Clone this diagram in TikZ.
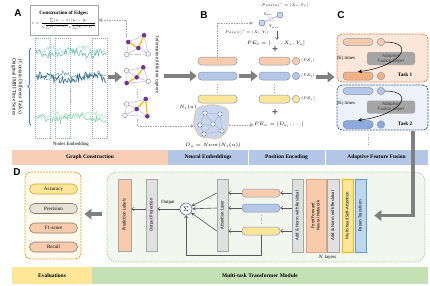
\RequirePackage{fix-cm}
\documentclass[tikz,border=0pt]{standalone}
\usepackage{fontspec}
\usepackage{amsmath}
\usepackage{graphicx}
\setmainfont{Liberation Serif}
\newfontfamily\labfont{Liberation Sans}
\newfontfamily\boxfont{Carlito}
\usetikzlibrary{arrows.meta,decorations.pathreplacing}

\definecolor{gcpeach}{HTML}{F8CFB6}
\definecolor{neblue}{HTML}{B4C7E7}
\definecolor{evyellow}{HTML}{FFE699}
\definecolor{mtgreen}{HTML}{C5E0B4}
\definecolor{peach}{HTML}{F8CBAD}
\definecolor{peachdark}{HTML}{F4B183}
\definecolor{pillblue}{HTML}{B4C7E7}
\definecolor{pillbluedark}{HTML}{8EA9DB}
\definecolor{pillyellow}{HTML}{FFE699}
\definecolor{pillline}{HTML}{8497B0}
\definecolor{gpurple}{HTML}{7030A0}
\definecolor{gyellow}{HTML}{FFC000}
\definecolor{glav}{HTML}{B4A7D6}
\definecolor{boxgray}{HTML}{A6A6A6}
\definecolor{vgray}{HTML}{E0E0E0}
\definecolor{evalgold}{HTML}{D4A22A}
\definecolor{evalfill}{HTML}{FFFAEB}
\definecolor{panelgreen}{HTML}{A9D18E}
\definecolor{panelfill}{HTML}{F1F7EE}
\definecolor{tonefill}{HTML}{FCE7DA}
\definecolor{toneline}{HTML}{ED7D31}
\definecolor{ttwofill}{HTML}{EDF2FA}
\definecolor{ttwoline}{HTML}{2F5597}
\definecolor{fusegray}{HTML}{A5A5A5}
\definecolor{biggray}{HTML}{808080}
\definecolor{arrgray}{HTML}{595959}
\definecolor{tsteal}{HTML}{5DB8A4}
\definecolor{tstealL}{HTML}{A8DDD0}
\definecolor{tsdark}{HTML}{20607E}
\definecolor{tsdarkL}{HTML}{5C95B0}
\definecolor{tsgreen}{HTML}{6FCF97}
\definecolor{tsgreenL}{HTML}{B5E8C8}
\definecolor{colblue}{HTML}{8FAADC}
\definecolor{braceblue}{HTML}{4472C4}
\definecolor{patchblue}{HTML}{C9D6EC}
\definecolor{patchline}{HTML}{F4B183}
\definecolor{metricline}{HTML}{8C7B6B}
\definecolor{precfill}{HTML}{E4E1D6}
\definecolor{ffnline}{HTML}{E6A57E}
\definecolor{mhsaline}{HTML}{E6B800}
\definecolor{ptfill}{HTML}{BDD7EE}
\definecolor{ptline}{HTML}{5B9BD5}

\newcommand{\vtext}[1]{\rotatebox{90}{\begin{tabular}{@{}c@{}}#1\end{tabular}}}
\newcommand{\dtext}[1]{\rotatebox{-90}{\begin{tabular}{@{}c@{}}#1\end{tabular}}}

\tikzset{every picture/.style={line width=0.5pt}}
\tikzset{
  banner/.style={inner sep=0pt, outer sep=0pt, font=\fontsize{5.5}{6}\selectfont\bfseries},
  panlab/.style={inner sep=0pt, font=\labfont\bfseries\fontsize{10}{10}\selectfont},
  small/.style={inner sep=0.5pt, font=\fontsize{4.8}{5.6}\selectfont},
  tiny/.style={inner sep=0.3pt, font=\fontsize{3.6}{4.2}\selectfont},
  pill/.style={draw=pillline, rounded corners=3.5pt, minimum height=8, inner sep=0pt},
  dot/.style={circle, draw=pillline, minimum size=7.5, inner sep=0pt},
  pnode/.style={circle, fill=gpurple, minimum size=4.6, inner sep=0pt},
  hnode/.style={circle, draw=pillline, fill=white, minimum size=4.6, inner sep=0pt, line width=0.5},
  bnode/.style={circle, draw=braceblue, fill=white, minimum size=4.4, inner sep=0pt, line width=0.4},
  gedge/.style={draw=glav, line width=0.4},
  yedge/.style={draw=gyellow, line width=1.3},
  dashline/.style={draw=boxgray, dash pattern=on 1.5pt off 1pt, line width=0.5},
  dtip/.style={-{Triangle[length=3.2pt,width=3.4pt]}},
  bigarrow/.style={draw=biggray, line width=3.6, -{Triangle[length=7pt,width=10.5pt]}},
  darr/.style={draw=arrgray, line width=0.6, -{Straight Barb[length=2.2pt,width=3.2pt]}},
  sarr/.style={draw=arrgray, line width=0.6, -{Stealth[length=3.5pt,width=3.2pt]}},
  vbox/.style={draw=boxgray, minimum height=72, inner sep=0.5pt, line width=0.5, font=\boxfont\fontsize{4.6}{5.2}\selectfont},
  metric/.style={rounded corners=5pt, minimum width=48, minimum height=10, inner sep=0pt, line width=0.6, font=\fontsize{5}{5.5}\selectfont},
  fusebox/.style={fill=fusegray, rounded corners=2.5pt, minimum width=48, minimum height=13, inner sep=0pt, align=center, text=black!75, font=\labfont\fontsize{4.6}{5.2}\selectfont},
  plusnode/.style={inner sep=0pt, text=arrgray, font=\labfont\bfseries\fontsize{10}{10}\selectfont}
}

\begin{document}
\begin{tikzpicture}[x=1pt,y=1pt,yscale=-1,xscale=1]
\useasboundingbox (0,0) rectangle (430,285);

%Banners
\node (bgc) [banner, fill=gcpeach, minimum width=156, minimum height=15] at (90,157.5) {Graph Construction};
\node (bne) [banner, fill=neblue, minimum width=80, minimum height=15] at (208,157.5) {Neural Embeddings};
\node (bpe) [banner, fill=neblue, minimum width=77, minimum height=15] at (286.5,157.5) {Position Encoding};
\node (baf) [banner, fill=neblue, minimum width=103, minimum height=15] at (376.5,157.5) {Adaptive Feature Fusion};
\draw [white, line width=0.6] (248,150) -- (248,165) (325,150) -- (325,165);
\node (bev) [banner, fill=evyellow, minimum width=80, minimum height=17] at (52,275.5) {Evaluations};
\node (bmt) [banner, fill=mtgreen, minimum width=336, minimum height=17] at (260,275.5) {Multi-task Transformer Module};

% Panel letters
\node (labA) [panlab] at (18,13) {A};
\node (labB) [panlab] at (204,15) {B};
\node (labC) [panlab] at (341,15) {C};
\node (labD) [panlab] at (17,172) {D};

%Shape: Edge formula
\node (edgebox) [draw=boxgray, line width=0.8, minimum width=68, minimum height=30, inner sep=1pt, align=center, font=\fontsize{5}{6}\selectfont] at (64,20) {\textbf{Construction of Edges:}\\[1.5pt]{\fontsize{3.4}{4}\selectfont$\displaystyle r=\frac{\sum(x_i-\bar{x})(y_i-\bar{y})}{\sqrt{\sum(x_i-\bar{x})^2}\sqrt{\sum(y_i-\bar{y})^2}}$}};

%Shape: Time windows
\draw [colblue, dash pattern=on 1pt off 1pt] (35,38) rectangle (50,138);
\draw [colblue, dash pattern=on 1pt off 1pt] (55,38) rectangle (70,138);
\draw [boxgray, dash pattern=on 1pt off 1pt] (92,38) rectangle (107,138);

%Curves: Time series
\pgfmathsetseed{11}
\draw [tstealL, line width=0.4] plot [domain=36:106, samples=75] (\x,{50+2*sin(12*\x)+3*rand});
\draw [tsteal, line width=0.45] plot [domain=36:106, samples=75] (\x,{53+2*sin(9*\x)+3.5*rand});
\draw [tsdarkL, line width=0.4] plot [domain=36:106, samples=75] (\x,{76+2*sin(10*\x)+3*rand});
\draw [tsdark, line width=0.55] plot [domain=36:106, samples=75] (\x,{78+2.5*sin(7*\x)+4*rand});
\draw [tsgreenL, line width=0.4] plot [domain=36:106, samples=75] (\x,{115+2*sin(11*\x)+3*rand});
\draw [tsgreen, line width=0.45] plot [domain=36:106, samples=75] (\x,{118+2*sin(8*\x)+3.5*rand});
\draw [boxgray, dotted, line width=0.6] (70,91) -- (70,103);

%Brace
\draw [decorate, decoration={brace, amplitude=3pt}, braceblue, line width=0.8] (31,125) -- (31,48);

% Text Node
\node (tslab) [small, font=\fontsize{5.3}{6.4}\selectfont] at (17,87) {\dtext{(Contain Different Tasks)\\Original fMRI Time Series}};
% Text Node
\node (nemb) [small] at (71,144) {Nodes Embedding};

%Graphs
\node (g1a) [pnode] at (128.3,42) {};
\node (g1b) [pnode] at (144,35.3) {};
\node (g1c) [pnode] at (138.3,48) {};
\node (g1d) [hnode] at (126.7,54.7) {};
\node (g1e) [hnode] at (148.3,54) {};
\draw [gedge] (g1a) -- (g1b) (g1a) -- (g1d) (g1d) -- (g1c) (g1c) -- (g1e) (g1b) -- (g1e) (g1d) -- (g1e);
\draw [yedge] (g1a) -- (g1c) -- (g1b);

\node (g2a) [hnode] at (126.7,70.7) {};
\node (g2b) [pnode] at (143.3,67.3) {};
\node (g2c) [pnode] at (136.7,77.3) {};
\node (g2d) [pnode] at (126.7,83) {};
\node (g2e) [hnode] at (148.3,81.3) {};
\draw [gedge] (g2a) -- (g2b) (g2a) -- (g2c) (g2a) -- (g2d) (g2c) -- (g2e) (g2b) -- (g2e) (g2d) -- (g2e);
\draw [yedge] (g2d) -- (g2c) -- (g2b);

\node (g3a) [hnode] at (126.7,104) {};
\node (g3b) [pnode] at (145.7,99) {};
\node (g3c) [pnode] at (136.7,109) {};
\node (g3d) [hnode] at (125,115.3) {};
\node (g3e) [pnode] at (147.3,116.3) {};
\draw [gedge] (g3a) -- (g3b) (g3a) -- (g3c) (g3d) -- (g3c) (g3d) -- (g3e) (g3a) -- (g3d) (g3c) -- (g3e);
\draw [yedge] (g3c) -- (g3b) -- (g3e);
\draw [boxgray, dotted, line width=0.6] (137,89) -- (137,98);

% Text Node
\node (infolab) [small] at (157,65) {\dtext{Information diffusion capture}};

%Dashed links A
\coordinate (gtop) at (126,37);
\draw [dashline, dtip, boxgray] (gtop) |- (edgebox.east);
\coordinate (g3out) at (137,119);
\coordinate (patchW) at (194,126);
\draw [dashline, dtip] (g3out) |- (patchW);

%Big arrows
\coordinate (tsout) at (108,77);
\coordinate (grin) at (122,77);
\draw [bigarrow] (tsout) -- (grin);

%Pills B
\node (ne1) [pill, fill=peach, minimum width=39] at (217.5,61) {};
\node (ne2) [pill, fill=pillblue, minimum width=39] at (217.5,76) {};
\node (ne3) [pill, fill=pillyellow, minimum width=39] at (217.5,99) {};
\draw [boxgray, dotted, line width=0.6] (217.5,84) -- (217.5,93);
\node (pe1) [pill, fill=peach, minimum width=31] at (274.5,61) {};
\node (pe2) [pill, fill=pillblue, minimum width=31] at (274.5,76) {};
\node (pe3) [pill, fill=pillyellow, minimum width=31] at (274.5,99) {};
\draw [boxgray, dotted, line width=0.6] (274.5,84) -- (274.5,93);
\node (pc1) [dot, fill=peach] at (296,61) {};
\node (pc2) [dot, fill=pillblue] at (296,76) {};
\node (pc3) [dot, fill=pillyellow] at (296,99) {};
\node (pl1) [tiny, anchor=west] at (300.5,61) {$(PE_1)$};
\node (pl2) [tiny, anchor=west] at (300.5,76) {$(PE_2)$};
\node (pl3) [tiny, anchor=west] at (300.5,99) {$(PE_n)$};
\node (plus1) [plusnode] at (275,50) {+};
\node (plus2) [plusnode] at (275,113) {+};

\coordinate (grout) at (164,76);
\draw [bigarrow, shorten >=1] (grout) -- (ne2.west);
\draw [bigarrow, shorten <=2, shorten >=1] (ne2.east) -- (pe2.west);

%Position top
\coordinate (posin) at (253,23);
\draw [dashline, dtip] (ne1.north) |- (posin);
\node (mg1) [bnode, fill=patchblue, minimum size=6] at (262,23) {};
\node (mg2) [bnode, fill=patchblue, minimum size=6] at (280,15) {};
\draw [gedge, line width=0.5] (mg1) -- (mg2);
\draw [gedge, line width=0.5] (mg1.north east) -- (275,21) (mg2.south west) -- (267,17);
\node (ypos) [tiny] at (268,14.5) {$Y_{pos}$};
\node (ymax) [tiny] at (274,27) {$Y_{max}$};
\node (poseu) [tiny] at (285,5) {$Pose(u)^{+}=(X_u,Y_u)$};
\node (posei) [tiny] at (247,32) {$Pose(i)^{+}=(X_i,Y_i)$};
\node (pe0) [small] at (276,43) {$PE_0=[\ldots,X_u,Y_u]$};
\coordinate (mgdown) at (277,31);
\draw [darr, line width=0.4] (mgdown) -- (pe0.north -| mgdown);

%Shape: neighbourhood patch
\draw [patchline, fill=patchblue, rounded corners=4] (196,108) -- (213,104) -- (229,109) -- (228,130) -- (219,139) -- (199,137) -- (193,124) -- cycle;
\node (bn1) [bnode] at (205,113) {};
\node (bn2) [bnode] at (220,114) {};
\node (bn3) [bnode] at (213,124) {};
\node (bn4) [bnode] at (200,125) {};
\node (bn5) [bnode] at (204,134) {};
\node (bn6) [bnode] at (222,131) {};
\draw [gedge] (bn1) -- (bn2) (bn1) -- (bn3) (bn2) -- (bn3) (bn1) -- (bn4) (bn4) -- (bn3) (bn4) -- (bn5) (bn3) -- (bn6) (bn2) -- (bn6) (bn5) -- (bn6) (bn3) -- (bn5);
\node (nlab) [small] at (188,107) {$N_1(u)$};
\node (dlab) [small] at (213,145) {$D_u=Num\big(N_1(u)\big)$};
\coordinate (patchE) at (229,125);
\node (pew) [small] at (279,125) {$PE_{w}=[D_{u_1},\ldots]$};
\draw [dashline, dtip] (patchE) -- (pew.west);

%Task boxes
\node (task1) [draw=toneline, fill=tonefill, dash pattern=on 2pt off 1pt, line width=0.8, rounded corners=5, minimum width=91, minimum height=48] at (382.5,58) {};
\node (task2) [draw=ttwoline, fill=ttwofill, dash pattern=on 2pt off 1pt, line width=0.8, rounded corners=5, minimum width=91, minimum height=45] at (382.5,107.5) {};

\node (t1p1) [pill, fill=peach, minimum width=30, minimum height=7] at (358,42) {};
\node (t1c1) [dot, fill=peach] at (381,42) {};
\node (t1fuse) [fusebox] at (391,58.5) {Adaptive\\Fusion Layer};
\node (t1k) [small] at (346,58) {(K) times};
\node (t1p2) [pill, fill=peachdark, minimum width=30] at (358,76) {};
\node (t1c2) [dot, fill=peachdark] at (381,76) {};
\node (t1lab) [small, font=\fontsize{5.2}{6}\selectfont\bfseries] at (405,75) {Task 1};
\draw [-{Stealth[length=4pt,width=3.5pt]}, line width=0.5] (t1c1.east) .. controls (416,42) and (402,66) .. (t1p2.north);

\node (t2p1) [pill, fill=pillblue, minimum width=30, minimum height=7] at (358,91) {};
\node (t2c1) [dot, fill=pillblue] at (381,91) {};
\node (t2fuse) [fusebox] at (391,107) {Adaptive\\Fusion Layer};
\node (t2k) [small] at (346,103.5) {(K) times};
\node (t2p2) [pill, fill=pillbluedark, minimum width=30] at (358,124.5) {};
\node (t2c2) [dot, fill=pillbluedark] at (381,124.5) {};
\node (t2lab) [small, font=\fontsize{5.2}{6}\selectfont\bfseries] at (405,124) {Task 2};
\draw [-{Stealth[length=4pt,width=3.5pt]}, line width=0.5] (t2c1.east) .. controls (416,91) and (402,115) .. (t2p2.north);
\draw [boxgray, dotted, line width=0.6] (368,134) -- (368,147);

\coordinate (pcout) at (316,77);
\draw [bigarrow, shorten >=2] (pcout) -- (task1.west |- pcout);

%Panel D
\node (evalbox) [draw=evalgold, fill=evalfill, dash pattern=on 2pt off 1pt, line width=0.8, rounded corners=6, minimum width=56, minimum height=87] at (53,215.5) {};
\node (acc) [metric, draw=evalgold, fill=pillyellow] at (53.5,189) {Accuracy};
\node (prec) [metric, draw=metricline, fill=precfill] at (53.5,208.5) {Precision};
\node (fone) [metric, draw=metricline, fill=peach] at (53.5,228) {F1-score};
\node (rec) [metric, draw=metricline, fill=peach] at (53.5,247) {Recall};

\node (tfpanel) [draw=panelgreen, fill=panelfill, dash pattern=on 1.5pt off 1pt, line width=0.7, rounded corners=10, minimum width=318, minimum height=90] at (266,217) {};
\coordinate (tfout) at (102,214);
\draw [bigarrow, shorten >=3] (tfout) -- (evalbox.east |- tfout);

\node (predlab) [vbox, fill=peach, minimum width=13] at (124.5,215) {\vtext{Prediction Labels}};
\node (outproj) [vbox, fill=vgray, minimum width=11] at (151.5,215) {\vtext{Output Projection}};
\node (sig) [circle, draw=ttwoline, fill=white, minimum size=12, inner sep=0pt, font=\fontsize{6.5}{7}\selectfont] at (186,209) {$\Sigma$};
\node (outlab) [small] at (168,202) {Output};
\node (attn) [vbox, fill=vgray, minimum width=11] at (222.5,215) {\vtext{Attention Layer}};
\node (dp1) [pill, fill=peach, minimum width=38] at (261,193) {};
\node (dp2) [pill, fill=pillblue, minimum width=38] at (261,208) {};
\node (dp3) [pill, fill=pillyellow, minimum width=38] at (261,231) {};
\draw [boxgray, dotted, line width=0.6] (261,215) -- (261,225);
\node (an1) [vbox, fill=vgray, minimum width=11, minimum height=73] at (297.5,215.5) {\vtext{Add \& Norm with Residual}};
\node (ffn) [vbox, fill=peach, draw=ffnline, minimum width=20, minimum height=73] at (316,215.5) {\vtext{Feed Forward\\Neural Network}};
\node (an2) [vbox, fill=vgray, minimum width=12, minimum height=73] at (333,215.5) {\vtext{Add \& Norm with Residual}};
\node (mhsa) [vbox, fill=pillyellow, draw=mhsaline, minimum width=11, minimum height=73] at (347.5,215.5) {\vtext{Multi-head Self-Attention}};
\node (ptrans) [vbox, fill=ptfill, draw=ptline, minimum width=11, minimum height=73] at (360.5,215.5) {\vtext{Param Transform}};
\node (nlay) [small] at (327,257) {$N$ layers};

\draw [darr] (sig) -- (outproj.east |- sig);
\draw [darr] (outproj.west |- sig) -- (predlab.east |- sig);
\foreach \p in {dp1,dp2,dp3}
{
  \draw [sarr] (attn.west |- \p) -- (sig);
  \draw [darr] (\p.west) -- (attn.east |- \p);
  \draw [darr] (an1.west |- \p) -- (\p.east);
}
\coordinate (loopc) at (186,255);
\draw [darr] (dp3.south) |- (loopc) -- (sig.south);

\coordinate (cdown) at (413,131);
\draw [bigarrow, shorten >=8] (cdown) |- (ptrans.east);

\end{tikzpicture}
\end{document}
